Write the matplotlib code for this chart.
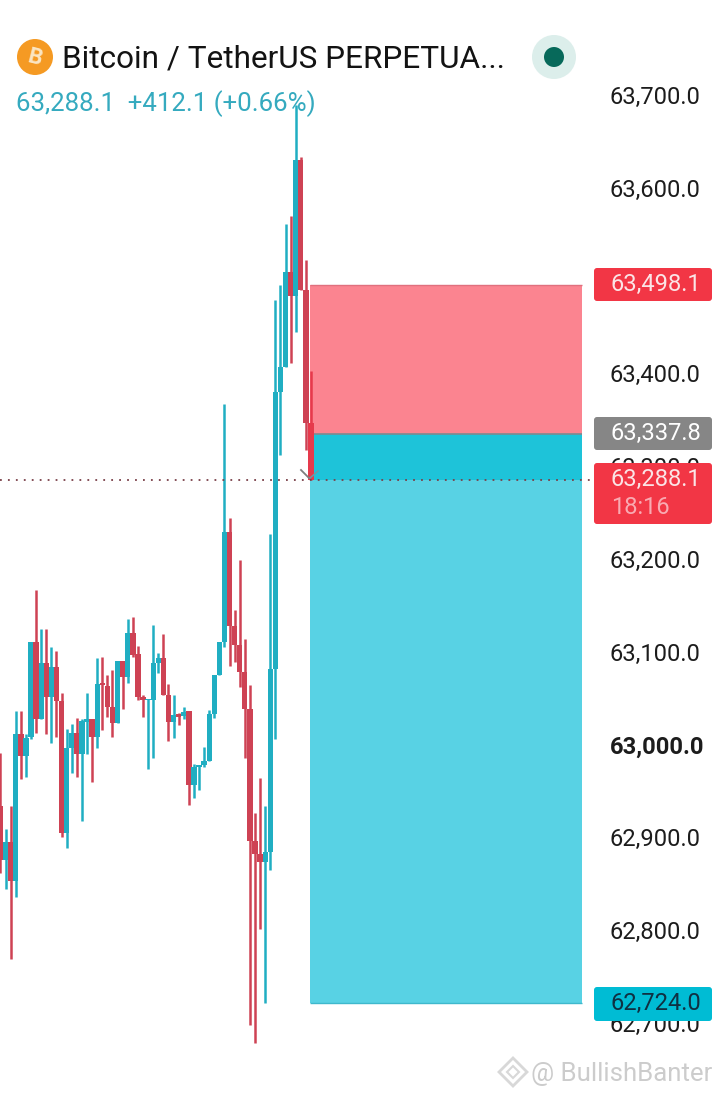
import matplotlib
matplotlib.use("Agg")
import matplotlib.pyplot as plt
from matplotlib.patches import Circle, FancyBboxPatch, Polygon
from matplotlib.transforms import ScaledTranslation

plt.rcParams['font.family'] = ['Roboto', 'DejaVu Sans']

# candles, oldest first
opens = [62936.4, 62878.2, 62897.6, 62855.6, 63014.0, 62990.3, 63010.8, 63113.1, 63030.2, 63090.5,
         63053.9, 63086.2, 63049.6, 62907.3, 62998.9, 63015.1, 62992.5, 63026.9, 63030.2, 63010.8,
         63069.0, 63065.7, 63043.1, 63025.9, 63092.7, 63075.4, 63122.8, 63100.2, 63053.9, 63050.6,
         63050.6, 63090.5, 63095.9, 63056.0, 63026.9, 63035.6, 63033.4, 63038.8, 62959.1, 62978.4,
         62980.6, 62984.9, 63035.6, 63077.6, 63113.1, 63231.7, 63130.4, 63109.9, 63080.8, 63040.9,
         62898.7, 62884.7, 62876.1, 62886.9, 63084.1, 63382.5, 63409.5, 63511.9, 63486.0, 63632.5,
         63492.5, 63349.1]
highs = [62993.5, 62911.6, 62936.4, 63038.8, 63038.8, 63014.0, 63113.1, 63169.2, 63127.2, 63127.2,
         63107.8, 63103.4, 63058.2, 63019.4, 63024.8, 63031.3, 63030.2, 63058.2, 63030.2, 63095.9,
         63097.0, 63077.6, 63083.0, 63092.7, 63092.7, 63137.9, 63140.1, 63108.8, 63056.0, 63051.7,
         63131.5, 63101.3, 63121.8, 63067.9, 63056.0, 63036.6, 63043.1, 63038.8, 62981.7, 62980.6,
         63000.0, 63039.9, 63077.6, 63113.1, 63369.6, 63246.8, 63147.6, 63201.5, 63116.4, 63066.8,
         62928.9, 62966.6, 62936.4, 63229.5, 63481.7, 63497.8, 63563.6, 63572.2, 63691.8, 63635.8,
         63524.8, 63405.2]
lows = [62864.2, 62847.0, 62771.5, 62838.4, 62965.5, 62967.7, 63008.6, 63015.1, 63030.2, 63014.0,
        63004.3, 63010.8, 62903.0, 62891.2, 62972.0, 62967.7, 62920.3, 62992.5, 62962.3, 62998.9,
        63018.3, 63032.3, 63010.8, 63025.9, 63040.9, 63069.0, 63097.0, 63050.6, 63032.3, 62976.3,
        62988.1, 63079.7, 63056.0, 63006.5, 63009.7, 63023.7, 63030.2, 62937.5, 62945.0, 62953.7,
        62978.4, 62984.9, 63031.3, 63077.6, 63107.8, 63087.3, 63091.6, 63064.7, 62988.1, 62700.4,
        62681.0, 62803.9, 62724.1, 62867.5, 63008.6, 63314.7, 63409.5, 63413.8, 63447.2, 63492.5,
        63320.0, 63287.7]
closes = [62878.2, 62897.6, 62855.6, 63014.0, 62990.3, 63009.7, 63113.1, 63030.2, 63090.5, 63053.9,
          63086.2, 63049.6, 62907.3, 62998.9, 63015.1, 62992.5, 63028.0, 63030.2, 63010.8, 63067.9,
          63066.8, 63043.1, 63025.9, 63092.7, 63075.4, 63122.8, 63099.1, 63053.9, 63050.6, 63051.7,
          63090.5, 63095.9, 63056.0, 63026.9, 63034.5, 63032.3, 63037.7, 62959.1, 62978.4, 62980.6,
          62984.9, 63035.6, 63077.6, 63113.1, 63231.7, 63130.4, 63109.9, 63080.8, 63040.9, 62898.7,
          62884.7, 62876.1, 62886.9, 63084.1, 63382.5, 63409.5, 63511.9, 63486.0, 63632.5, 63492.5,
          63349.1, 63288.1]

# 63,500.0 sits fully behind the stop badge in the reference, so it is left out
price_ticks = [62700, 62800, 62900, 63000, 63100, 63200, 63300, 63400, 63600, 63700]
stop_price = 63498.1
entry_price = 63337.8
last_price = 63288.1
target_price = 62724.0

TEAL = '#20aec2'
RED = '#ce4254'
W, H = 719, 1097

fig = plt.figure(figsize=(W / 100, H / 100), dpi=100)
ax = fig.add_axes([0, 0, 600 / W, 1])
ax.set_xlim(-0.098, 117.78)
ax.set_ylim(62622.8, 63805.0)
for s in ax.spines.values():
    s.set_visible(False)
ax.set_xticks([])
ax.yaxis.tick_right()
ax.set_yticks(price_ticks, labels=[f"{p:,.1f}" for p in price_ticks])
ax.tick_params(axis='y', length=0, pad=7, labelsize=17.1, labelcolor='#1c1c1c')
# labels sit a little above their price level
nudge = ScaledTranslation(0, 2.5 / 100, fig.dpi_scale_trans)
for lab, p in zip(ax.get_yticklabels(), price_ticks):
    lab.set_transform(lab.get_transform() + nudge)
    if p == 63000:
        lab.set_fontweight('bold')

# position tool boxes, in candle numbers
box_left, box_right = 60.8, 114.25
ax.fill_between([box_left, box_right], entry_price, stop_price, color='#fb8490', lw=0, zorder=2)
ax.fill_between([box_left, box_right], last_price, entry_price, color='#1ec3d9', lw=0, zorder=2)
ax.fill_between([box_left, box_right], target_price, last_price, color='#58d2e4', lw=0, zorder=2)
ax.hlines(stop_price, box_left, box_right, color='#e0707e', lw=1, zorder=2.1)
ax.hlines(entry_price, box_left, box_right, color='#7c8a90', lw=1.2, zorder=2.1)
ax.hlines(target_price, box_left, box_right, color='#3fb8cc', lw=1, zorder=2.1)

for i, (o, h, l, c) in enumerate(zip(opens, highs, lows, closes)):
    col = TEAL if c >= o else RED
    if i == len(opens) - 1:
        col = '#e63a4c'
    ax.vlines(i, l, h, color=col, lw=1.8, zorder=3)
    ax.bar(i, abs(c - o), bottom=min(o, c), width=1.05, color=col, lw=0, zorder=3.2)

ax.hlines(last_price, -0.098, 117.78, color='#7a3f48', lw=1.3, linestyles=(0, (1, 3.4)), zorder=3.5)

# overlay in image pixels for header, badges and watermark
ov = fig.add_axes([0, 0, 1, 1], zorder=5)
ov.set_xlim(0, W)
ov.set_ylim(H, 0)
ov.axis('off')
ov.patch.set_alpha(0)

# small chevron on the last candle
ov.plot([301, 309], [470, 478], color='#7d7d7d', lw=1.3)
ov.plot([310, 318], [478, 471], color='#6f9aa5', lw=1.1)

ov.add_patch(Circle((35, 57), 18, color='#f59a23', lw=0))
ov.text(35, 58, "B", color='#fbe6c4', fontsize=16, fontweight='bold', ha='center', va='center', rotation=-14)
ov.text(62, 59, "Bitcoin / TetherUS PERPETUA...", fontsize=22.7, color='#131313', va='center', ha='left')
ov.text(16, 104, "63,288.1  +412.1 (+0.66%)", fontsize=18.6, color='#35aabf', va='center', ha='left')
ov.add_patch(Circle((554, 57), 22, color='#dceeeb', lw=0))
ov.add_patch(Circle((554, 57), 10, color='#07695a', lw=0))


def badge(y0, y1, color):
    ov.add_patch(FancyBboxPatch((594, y0), 118, y1 - y0, boxstyle="round,pad=0,rounding_size=3",
                                fc=color, ec='none', zorder=4))


badge(268, 301, '#f23645')
ov.text(701, 284, f"{stop_price:,.1f}", color='#fbe4e6', fontsize=17.1, ha='right', va='center', zorder=5)
badge(417, 450, '#868686')
ov.text(701, 433, f"{entry_price:,.1f}", color='white', fontsize=17.1, ha='right', va='center', zorder=5)
badge(463, 524, '#f23645')
ov.text(701, 479, f"{last_price:,.1f}", color='#fbe4e6', fontsize=17.1, ha='right', va='center', zorder=5)
ov.text(611, 508, "18:16", color='#f9aab2', fontsize=17.1, ha='left', va='center', zorder=5)
badge(987, 1021, '#00bcd4')
ov.text(701, 1003, f"{target_price:,.1f}", color='#0f3042', fontsize=17.1, ha='right', va='center', zorder=5)

# watermark
ov.add_patch(Polygon([(513, 1058), (527, 1072), (513, 1086), (499, 1072)], closed=True,
                     fc='none', ec='#d8d8d8', lw=2))
ov.add_patch(Polygon([(513, 1066), (519, 1072), (513, 1078), (507, 1072)], closed=True,
                     fc='none', ec='#d8d8d8', lw=1.5))
ov.text(712, 1074, "@ BullishBanter", color='#cccccc', fontsize=18.5, ha='right', va='center')

fig.savefig("out.png", dpi=100, facecolor='white')
